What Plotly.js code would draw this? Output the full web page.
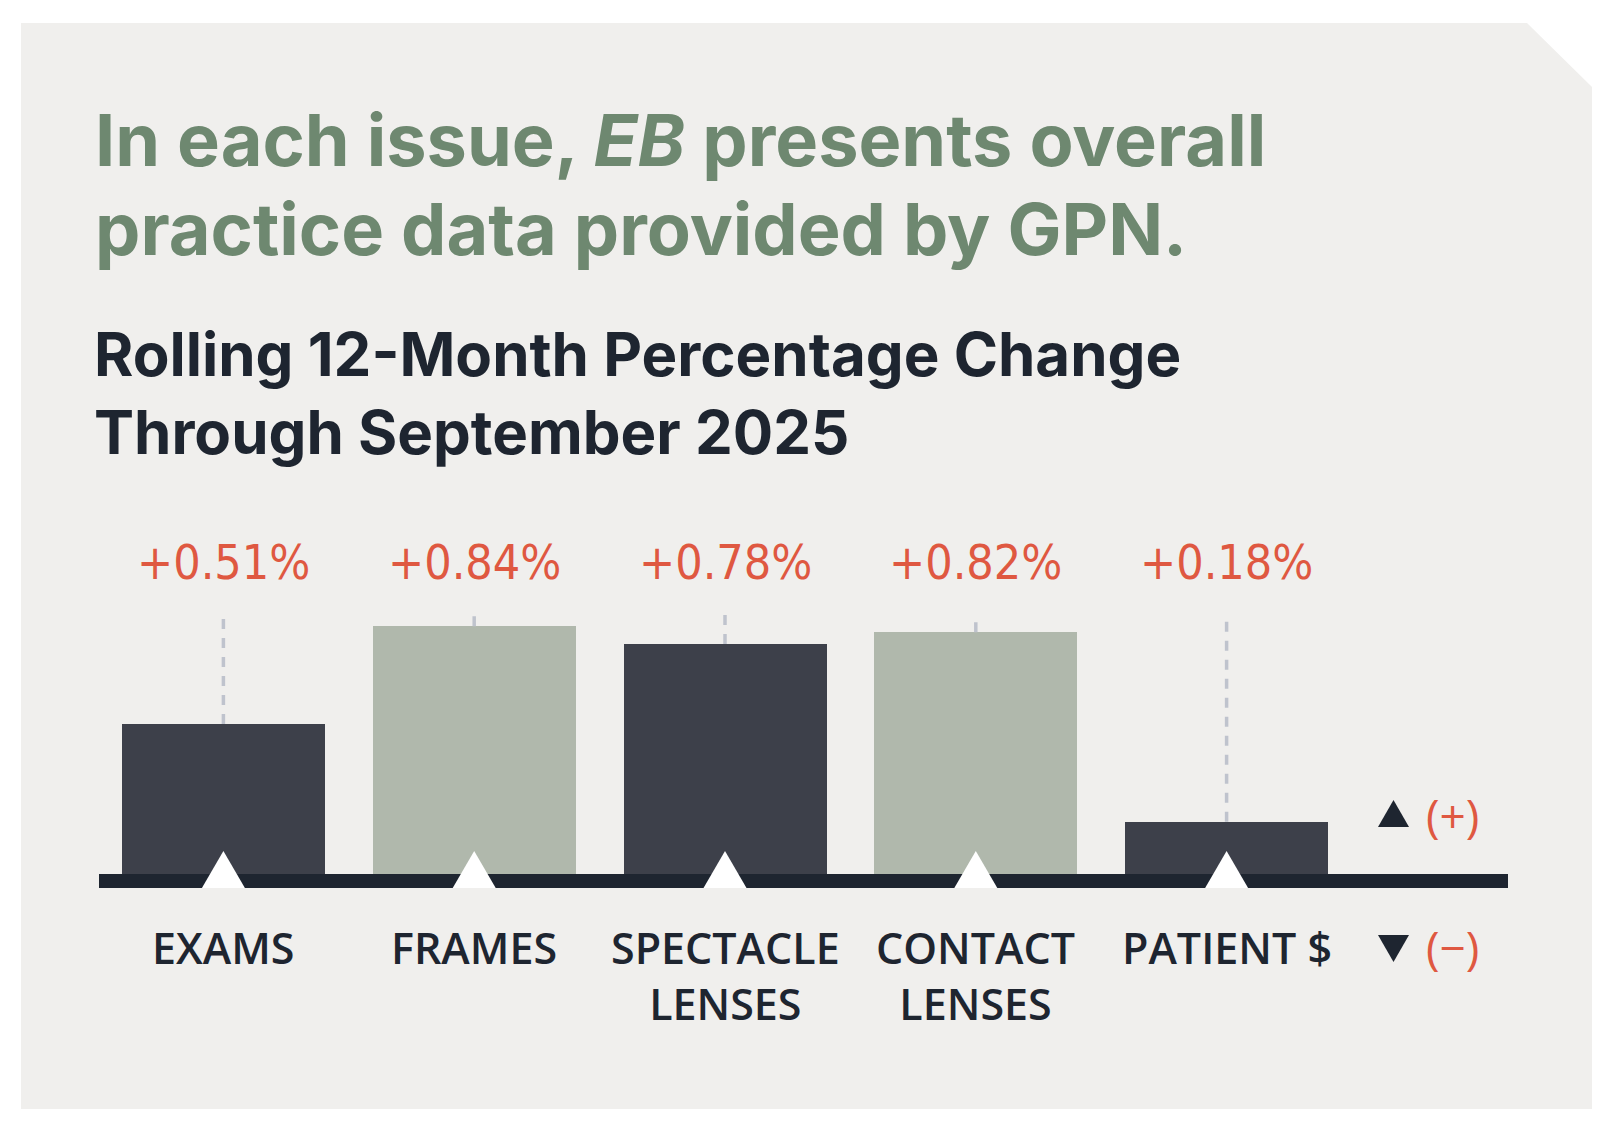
<!DOCTYPE html>
<html><head><meta charset="utf-8">
<script src="https://cdn.plot.ly/plotly-3.0.1.min.js"></script>
<style>html,body{margin:0;padding:0;background:#fff}</style>
</head><body><div id="chart" style="width:1618px;height:1132px"></div>
<script>
// ---- data ----
const categories = ['EXAMS', 'FRAMES', 'SPECTACLE<br>LENSES', 'CONTACT<br>LENSES', 'PATIENT $'];
const values = [0.51, 0.84, 0.78, 0.82, 0.18];
const barColors = ['#3d404a', '#b0b8ac', '#3d404a', '#b0b8ac', '#3d404a'];
const titleLines = ['In each issue, <i>EB</i> presents overall', 'practice data provided by GPN.'];
const subtitleLines = ['Rolling 12-Month Percentage Change', 'Through September 2025'];
const legendLabels = ['(+)', '(\u2212)'];

// ---- geometry (pixels) ----
const W = 1618, H = 1132;
const X0 = 223.4, DX = 250.8;   // px of first category, px per category
const Y0 = 875, DY = 296;       // px of zero, px per unit
const xv = px => (px - X0) / DX;
const yv = py => (Y0 - py) / DY;
const PX = px => px / W;
const PY = py => 1 - py / H;

const idx = categories.map((c, i) => i);
const RED = '#df5841', DARK = '#1e2530', GREEN = '#6e8870';

// dashed guide lines from top to bar
const dx = [], dy = [];
idx.forEach(i => { dx.push(i, i, null); dy.push(values[i], yv(615), null); });

const traces = [
  {type: 'scatter', mode: 'lines', x: dx, y: dy, hoverinfo: 'skip',
   line: {color: '#bfc3cd', width: 3.5, dash: '10px,9px'}, showlegend: false},
  {type: 'bar', x: idx, y: values, width: 203 / DX,
   marker: {color: barColors, line: {width: 0}}, showlegend: false, hoverinfo: 'skip'}
];

const shapes = [
  // panel
  {type: 'path', xref: 'paper', yref: 'paper', layer: 'below',
   path: `M ${PX(21)},${PY(23)} L ${PX(1527)},${PY(23)} L ${PX(1592)},${PY(87)} L ${PX(1592)},${PY(1109)} L ${PX(21)},${PY(1109)} Z`,
   fillcolor: '#f0efed', line: {width: 0}},
  // baseline strip
  {type: 'rect', xref: 'x domain', yref: 'y', x0: 0, x1: 1, y0: yv(888), y1: yv(874),
   fillcolor: DARK, line: {width: 0}},
  // legend triangles
  {type: 'path', xref: 'paper', yref: 'paper',
   path: `M ${PX(1378)},${PY(827)} L ${PX(1409)},${PY(827)} L ${PX(1393.5)},${PY(800)} Z`,
   fillcolor: DARK, line: {width: 0}},
  {type: 'path', xref: 'paper', yref: 'paper',
   path: `M ${PX(1378)},${PY(935)} L ${PX(1409)},${PY(935)} L ${PX(1393.5)},${PY(962)} Z`,
   fillcolor: DARK, line: {width: 0}}
];
// white triangles on baseline at each category
const th = 21.5 / DX;
idx.forEach(i => {
  shapes.push({type: 'path', xref: 'x', yref: 'y',
    path: `M ${i - th},${yv(888)} L ${i + th},${yv(888)} L ${i},${yv(851)} Z`,
    fillcolor: '#ffffff', line: {width: 0}});
});

const annotations = [];
const titleFont = {family: 'Inter, Lato, "Open Sans", sans-serif', size: 72, weight: 700, color: GREEN};
[139.5, 228.5].forEach((py, k) => annotations.push({
  xref: 'paper', yref: 'paper', x: PX(93), y: PY(py), xanchor: 'left', yanchor: 'middle',
  text: '<b>' + titleLines[k] + '</b>', showarrow: false, font: titleFont}));
const subFont = {family: 'Inter, Lato, "Open Sans", sans-serif', size: 60, weight: 700, color: DARK};
[353.5, 431.5].forEach((py, k) => annotations.push({
  xref: 'paper', yref: 'paper', x: PX(92), y: PY(py), xanchor: 'left', yanchor: 'middle',
  text: '<b>' + subtitleLines[k] + '</b>', showarrow: false, font: subFont}));
// value labels
idx.forEach(i => annotations.push({
  xref: 'x', yref: 'y', x: i, y: yv(562), xanchor: 'center', yanchor: 'middle',
  text: '+' + values[i].toFixed(2) + '%', showarrow: false,
  font: {family: '"DejaVu Sans Condensed", "Open Sans", sans-serif', size: 48, color: RED}}));
// category labels (one text per category, wrapped)
const catFont = {family: '"Open Sans", sans-serif', size: 43, weight: 600, color: DARK};
idx.forEach(i => annotations.push({
  xref: 'x', yref: 'paper', x: i, y: PY(916), xanchor: 'center', yanchor: 'top',
  text: categories[i], showarrow: false, font: catFont}));
// legend labels
[815, 947].forEach((py, k) => annotations.push({
  xref: 'paper', yref: 'paper', x: PX(1424), y: PY(py), xanchor: 'left', yanchor: 'middle',
  text: legendLabels[k], showarrow: false,
  font: {family: '"Open Sans", sans-serif', size: 46, color: RED}}));

const layout = {
  width: W, height: H,
  margin: {l: 0, r: 0, t: 0, b: 0},
  paper_bgcolor: '#ffffff', plot_bgcolor: 'rgba(0,0,0,0)',
  showlegend: false,
  bargap: 0,
  xaxis: {domain: [PX(99), PX(1508)], range: [xv(99), xv(1508)], showgrid: false,
          zeroline: false, showticklabels: false, ticks: '', showline: false, fixedrange: true},
  yaxis: {domain: [PY(889), PY(519.8)], range: [yv(889), yv(519.8)], showgrid: false,
          zeroline: false, showticklabels: false, ticks: '', showline: false, fixedrange: true},
  shapes: shapes,
  annotations: annotations
};

Plotly.newPlot('chart', traces, layout, {displayModeBar: false, staticPlot: true});
</script>
</body></html>
